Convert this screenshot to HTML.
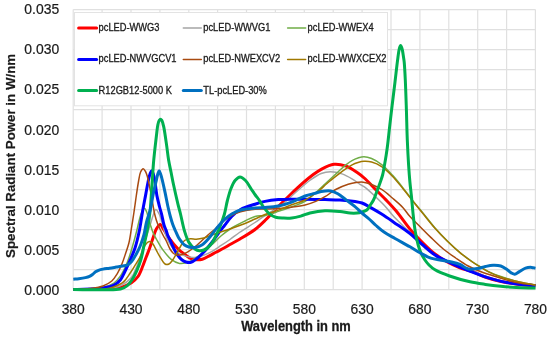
<!DOCTYPE html>
<html><head><meta charset="utf-8"><style>
html,body{margin:0;padding:0;background:#fff;}
svg{display:block;}
text{font-family:"Liberation Sans",Arial,sans-serif;fill:#1a1a1a;}
</style></head><body>
<svg width="550" height="337" viewBox="0 0 550 337">
<rect width="550" height="337" fill="#fff"/>
<g stroke="#e0e0e0" stroke-width="1.2" fill="none">
<line x1="73.2" y1="289.6" x2="535.4" y2="289.6"/>
<line x1="73.2" y1="269.6" x2="535.4" y2="269.6"/>
<line x1="73.2" y1="249.6" x2="535.4" y2="249.6"/>
<line x1="73.2" y1="229.6" x2="535.4" y2="229.6"/>
<line x1="73.2" y1="209.6" x2="535.4" y2="209.6"/>
<line x1="73.2" y1="189.6" x2="535.4" y2="189.6"/>
<line x1="73.2" y1="169.6" x2="535.4" y2="169.6"/>
<line x1="73.2" y1="149.6" x2="535.4" y2="149.6"/>
<line x1="73.2" y1="129.6" x2="535.4" y2="129.6"/>
<line x1="73.2" y1="109.6" x2="535.4" y2="109.6"/>
<line x1="73.2" y1="89.6" x2="535.4" y2="89.6"/>
<line x1="73.2" y1="69.6" x2="535.4" y2="69.6"/>
<line x1="73.2" y1="49.6" x2="535.4" y2="49.6"/>
<line x1="73.2" y1="29.6" x2="535.4" y2="29.6"/>
<line x1="73.2" y1="9.6" x2="535.4" y2="9.6"/>
<line x1="73.2" y1="9.6" x2="73.2" y2="289.6"/>
<line x1="102.1" y1="9.6" x2="102.1" y2="289.6"/>
<line x1="131.0" y1="9.6" x2="131.0" y2="289.6"/>
<line x1="159.9" y1="9.6" x2="159.9" y2="289.6"/>
<line x1="188.8" y1="9.6" x2="188.8" y2="289.6"/>
<line x1="217.6" y1="9.6" x2="217.6" y2="289.6"/>
<line x1="246.5" y1="9.6" x2="246.5" y2="289.6"/>
<line x1="275.4" y1="9.6" x2="275.4" y2="289.6"/>
<line x1="304.3" y1="9.6" x2="304.3" y2="289.6"/>
<line x1="333.2" y1="9.6" x2="333.2" y2="289.6"/>
<line x1="362.1" y1="9.6" x2="362.1" y2="289.6"/>
<line x1="391.0" y1="9.6" x2="391.0" y2="289.6"/>
<line x1="419.9" y1="9.6" x2="419.9" y2="289.6"/>
<line x1="448.8" y1="9.6" x2="448.8" y2="289.6"/>
<line x1="477.7" y1="9.6" x2="477.7" y2="289.6"/>
<line x1="506.6" y1="9.6" x2="506.6" y2="289.6"/>
<line x1="535.4" y1="9.6" x2="535.4" y2="289.6"/>
</g>
<g fill="none" stroke-linejoin="round" stroke-linecap="butt">
<path d="M73.20 289.50 C82.13 289.47 92.84 289.53 100.00 289.40 C104.79 289.31 108.35 289.36 112.00 289.00 C115.09 288.70 117.55 288.48 120.50 287.60 C123.97 286.57 128.36 284.83 131.40 282.80 C134.06 281.03 136.15 279.11 138.00 276.50 C140.13 273.50 141.57 268.95 143.00 265.50 C144.24 262.51 145.12 259.83 146.20 257.00 C147.28 254.16 148.46 251.39 149.50 248.50 C150.56 245.56 151.39 242.64 152.50 239.50 C153.73 236.01 154.99 231.15 156.60 228.50 C157.69 226.70 159.06 224.42 160.20 224.50 C161.40 224.58 162.50 227.83 163.60 229.50 C164.69 231.16 165.71 232.84 166.80 234.50 C167.90 236.17 169.03 237.86 170.20 239.50 C171.36 241.13 172.44 242.68 173.80 244.30 C175.33 246.11 177.23 248.17 179.00 249.80 C180.63 251.30 182.28 252.49 184.00 253.80 C185.77 255.15 187.61 256.82 189.50 257.80 C191.22 258.69 192.85 259.32 194.80 259.60 C197.06 259.93 199.87 259.92 202.30 259.30 C204.85 258.64 207.34 256.83 209.70 255.60 C211.89 254.46 213.77 253.39 216.00 252.20 C218.50 250.87 221.54 249.36 224.00 248.00 C226.16 246.80 227.74 245.78 230.00 244.50 C232.90 242.86 236.37 241.15 240.00 239.00 C244.53 236.32 250.63 232.82 255.00 229.50 C258.81 226.61 261.71 223.73 265.00 220.50 C268.48 217.09 271.52 213.38 275.30 209.50 C279.72 204.96 285.11 199.66 290.00 195.00 C294.71 190.51 300.03 185.54 304.10 182.00 C307.07 179.41 309.21 177.58 312.00 175.50 C314.90 173.34 317.77 171.10 321.20 169.30 C325.02 167.30 329.73 164.76 334.00 164.30 C338.03 163.86 342.33 164.90 346.10 166.20 C349.82 167.48 353.25 169.83 356.50 172.00 C359.67 174.11 362.41 176.31 365.40 179.00 C368.83 182.09 372.32 186.17 375.80 189.70 C379.25 193.20 382.77 196.51 386.20 200.10 C389.71 203.77 393.01 207.20 396.60 211.50 C400.89 216.65 405.48 223.74 410.00 229.10 C414.12 233.98 418.25 238.28 422.50 242.50 C426.59 246.56 430.69 250.67 435.00 254.00 C439.01 257.10 443.18 259.67 447.40 262.00 C451.48 264.25 455.67 266.20 459.90 267.80 C464.01 269.35 468.27 269.99 472.40 271.50 C476.64 273.05 480.56 275.42 485.00 277.00 C489.73 278.68 494.67 280.01 500.00 281.20 C505.93 282.52 512.89 283.61 519.00 284.40 C524.65 285.13 529.93 285.40 535.40 285.90" stroke="#ff0000" stroke-width="3.0"/>
<path d="M73.20 289.50 C83.80 289.40 96.33 290.24 105.00 289.20 C111.13 288.47 115.98 287.71 120.50 285.60 C124.69 283.65 128.66 280.71 131.40 277.40 C133.99 274.28 135.14 270.51 136.80 266.50 C138.72 261.85 140.37 256.14 142.00 251.00 C143.60 245.97 145.00 240.75 146.50 236.00 C147.87 231.66 149.47 227.21 150.60 223.60 C151.47 220.82 151.92 218.59 152.80 216.20 C153.66 213.86 154.63 209.51 155.80 209.40 C156.89 209.29 158.46 212.62 159.50 214.70 C160.75 217.21 161.34 220.25 162.40 223.60 C163.77 227.93 164.81 233.91 167.00 238.50 C169.14 242.99 171.92 247.92 175.30 250.90 C178.29 253.53 182.26 255.01 185.70 256.10 C188.76 257.07 191.43 257.78 194.80 257.50 C199.20 257.14 205.14 254.74 209.70 252.60 C214.00 250.58 217.90 247.53 221.50 245.20 C224.58 243.20 227.12 241.54 230.00 239.50 C233.08 237.32 235.82 234.97 239.40 232.50 C243.90 229.39 250.40 225.58 255.00 222.50 C258.73 220.00 261.24 217.99 265.00 215.50 C269.67 212.41 275.99 209.26 281.00 205.50 C285.99 201.75 290.18 197.17 295.00 193.00 C300.00 188.67 305.69 183.45 310.50 180.00 C314.29 177.29 317.63 174.86 321.20 173.50 C324.30 172.32 327.24 171.80 330.50 171.80 C334.13 171.80 338.35 172.68 342.00 173.90 C345.64 175.12 349.26 177.25 352.40 179.10 C355.19 180.74 357.66 182.79 360.00 184.30 C361.94 185.55 363.39 186.10 365.40 187.60 C368.40 189.84 372.37 193.74 375.80 197.00 C379.31 200.34 383.25 204.13 386.20 207.40 C388.61 210.07 389.74 212.04 392.40 215.00 C396.55 219.62 403.85 226.49 409.20 232.00 C414.18 237.13 418.11 242.50 423.50 247.00 C429.15 251.71 435.99 256.12 442.50 259.50 C448.67 262.70 455.70 264.78 461.50 267.00 C466.37 268.86 469.92 270.13 475.00 272.00 C481.57 274.42 488.97 278.15 497.60 280.30 C508.46 283.01 522.80 283.77 535.40 285.50" stroke="#a5a5a5" stroke-width="1.5"/>
<path d="M73.20 289.50 C83.13 288.80 95.59 289.10 103.00 287.40 C107.67 286.33 111.00 285.08 114.00 283.00 C116.71 281.13 118.63 278.52 120.50 275.90 C122.41 273.23 123.90 270.08 125.30 267.10 C126.66 264.21 127.67 261.50 128.80 258.30 C130.12 254.57 131.34 250.31 132.60 246.00 C133.98 241.26 135.50 235.72 136.70 231.00 C137.76 226.81 138.51 222.60 139.50 219.10 C140.30 216.26 140.99 213.43 142.00 211.50 C142.71 210.13 143.64 208.28 144.40 208.30 C145.14 208.32 145.90 210.19 146.50 211.50 C147.30 213.24 147.76 215.80 148.40 218.00 C149.06 220.27 149.66 222.55 150.40 224.90 C151.18 227.38 151.96 230.06 153.00 232.50 C154.03 234.92 155.18 236.96 156.60 239.50 C158.36 242.65 160.49 246.62 162.90 249.90 C165.35 253.23 168.19 257.00 171.20 259.30 C173.79 261.28 176.50 262.98 179.50 263.40 C182.70 263.85 186.52 262.88 189.90 261.50 C193.71 259.95 197.43 256.72 201.00 254.00 C204.63 251.23 208.08 248.09 211.50 245.00 C214.91 241.92 218.06 238.38 221.50 235.50 C224.80 232.74 227.98 230.33 231.70 228.00 C235.75 225.46 240.85 223.02 245.00 221.00 C248.54 219.27 251.59 217.43 255.00 216.50 C258.26 215.61 261.46 216.12 265.00 215.40 C269.18 214.55 273.96 212.85 278.40 211.40 C282.86 209.95 287.27 208.36 291.70 206.70 C296.17 205.03 300.87 203.93 305.10 201.40 C309.68 198.66 314.38 193.70 318.00 190.50 C320.72 188.09 322.67 186.17 325.00 184.00 C327.33 181.83 329.67 179.67 332.00 177.50 C334.33 175.33 336.64 173.15 339.00 171.00 C341.37 168.85 343.88 166.42 346.20 164.60 C348.19 163.04 349.99 161.71 352.00 160.60 C353.93 159.53 355.97 158.65 358.00 158.00 C359.97 157.37 361.88 156.68 364.00 156.70 C366.39 156.72 368.96 157.42 371.60 158.50 C374.90 159.85 378.68 162.21 382.00 164.80 C385.64 167.64 389.02 171.41 392.40 175.10 C395.96 178.99 399.44 183.36 402.80 187.60 C406.14 191.83 409.19 196.32 412.50 200.50 C415.76 204.61 419.00 208.23 422.50 212.50 C426.45 217.32 430.74 223.14 435.00 228.00 C439.05 232.61 443.19 236.86 447.40 241.00 C451.49 245.02 455.64 248.97 459.90 252.50 C463.98 255.88 468.81 259.32 472.40 261.80 C475.00 263.59 476.82 264.68 479.30 266.20 C482.13 267.93 485.14 269.96 488.50 271.60 C492.24 273.43 496.66 275.03 500.80 276.50 C504.90 277.96 509.05 279.28 513.20 280.40 C517.29 281.51 521.60 282.41 525.50 283.20 C529.00 283.91 532.17 284.40 535.50 285.00" stroke="#70ad47" stroke-width="1.5"/>
<path d="M73.20 289.50 C83.13 289.00 95.53 289.13 103.00 288.00 C107.61 287.31 110.96 286.77 114.00 285.20 C116.63 283.84 118.71 281.92 120.50 279.70 C122.37 277.38 123.42 274.46 124.90 271.50 C126.59 268.12 128.36 264.31 130.00 260.50 C131.73 256.49 133.51 252.60 135.00 248.00 C136.75 242.60 138.22 236.18 139.50 230.00 C140.84 223.54 141.69 216.28 142.80 210.00 C143.79 204.39 144.88 199.01 145.80 194.10 C146.59 189.87 147.24 185.88 148.00 182.30 C148.64 179.28 149.24 176.11 150.00 174.00 C150.50 172.62 151.05 170.71 151.60 170.70 C152.15 170.69 152.81 172.62 153.30 174.00 C154.03 176.05 154.47 178.97 155.00 182.00 C155.69 185.92 156.09 191.28 156.90 195.60 C157.65 199.59 158.72 203.54 159.60 207.00 C160.34 209.91 161.10 212.18 161.80 215.00 C162.58 218.14 163.16 222.27 164.00 225.00 C164.61 226.98 165.36 228.25 166.00 230.00 C166.70 231.90 167.26 234.23 168.00 236.00 C168.62 237.49 169.33 238.58 170.00 240.00 C170.74 241.57 171.44 243.34 172.20 245.00 C172.97 246.67 173.71 248.35 174.60 250.00 C175.51 251.69 176.43 253.40 177.60 255.00 C178.82 256.67 180.28 258.60 181.80 259.80 C183.11 260.83 184.49 261.58 186.00 262.00 C187.55 262.43 189.33 262.73 191.00 262.30 C192.99 261.79 195.04 260.02 197.00 258.50 C199.18 256.81 201.51 254.45 203.40 252.50 C205.05 250.80 206.32 249.26 207.80 247.50 C209.39 245.61 210.95 243.70 212.60 241.50 C214.53 238.94 216.57 235.72 218.60 233.00 C220.54 230.40 222.43 228.11 224.50 225.50 C226.78 222.63 229.00 219.18 231.70 216.50 C234.37 213.85 237.10 211.46 240.60 209.50 C244.68 207.22 250.61 205.62 255.00 204.20 C258.61 203.03 261.40 202.14 265.00 201.40 C269.11 200.55 273.93 199.97 278.40 199.60 C282.83 199.24 287.26 199.25 291.70 199.20 C296.16 199.15 300.19 199.24 305.10 199.30 C311.08 199.37 318.83 199.47 325.00 199.60 C330.35 199.71 335.01 199.68 340.00 200.00 C345.01 200.32 350.96 200.87 355.00 201.50 C357.79 201.94 359.57 202.11 362.00 203.00 C364.93 204.07 368.06 206.13 371.20 207.90 C374.58 209.81 378.01 211.83 381.60 214.10 C385.58 216.62 389.62 219.41 394.00 222.40 C399.01 225.81 405.10 229.63 410.00 233.50 C414.54 237.09 418.30 241.09 422.50 244.70 C426.63 248.25 430.69 252.14 435.00 255.00 C439.01 257.66 443.23 259.46 447.40 261.50 C451.53 263.52 455.83 265.49 459.90 267.20 C463.69 268.79 467.28 270.07 471.00 271.50 C474.75 272.94 478.42 274.47 482.30 275.80 C486.32 277.18 490.56 278.48 494.70 279.60 C498.79 280.71 502.88 281.71 507.00 282.50 C511.08 283.28 514.91 283.80 519.30 284.30 C524.32 284.87 530.10 285.17 535.50 285.60" stroke="#0000ff" stroke-width="3.0"/>
<path d="M73.20 289.50 C79.47 289.10 86.59 289.03 92.00 288.30 C96.18 287.73 99.63 287.27 103.00 286.00 C106.20 284.79 109.38 283.13 111.80 281.00 C114.10 278.98 115.66 276.41 117.30 273.70 C119.10 270.73 120.59 267.25 122.00 263.80 C123.47 260.20 124.71 256.11 125.90 252.50 C126.99 249.20 128.03 246.56 128.90 243.00 C129.97 238.60 130.66 233.08 131.50 228.00 C132.36 222.76 133.36 216.25 134.00 212.00 C134.42 209.19 134.64 207.54 135.00 205.00 C135.43 201.96 135.86 198.61 136.40 195.00 C137.04 190.72 137.82 185.14 138.60 181.00 C139.23 177.66 139.56 174.18 140.60 172.00 C141.30 170.53 142.35 168.71 143.20 168.70 C143.99 168.69 144.85 170.38 145.50 171.50 C146.27 172.83 146.70 174.27 147.30 176.30 C148.28 179.62 149.31 185.23 150.20 189.70 C151.08 194.13 151.80 198.68 152.60 203.00 C153.36 207.10 154.00 211.37 154.90 215.00 C155.67 218.10 156.50 220.89 157.50 223.50 C158.39 225.84 159.48 227.88 160.50 230.00 C161.48 232.05 162.49 234.10 163.50 236.00 C164.43 237.75 165.34 239.12 166.30 241.00 C167.49 243.33 168.65 246.78 170.00 249.00 C171.09 250.79 172.13 252.49 173.50 253.50 C174.68 254.37 176.11 254.83 177.50 255.00 C178.94 255.18 180.46 254.92 182.00 254.50 C183.75 254.03 185.51 253.16 187.40 252.10 C189.73 250.79 192.39 248.91 194.80 247.00 C197.36 244.97 199.81 242.46 202.30 240.20 C204.77 237.96 207.34 235.55 209.70 233.50 C211.79 231.69 213.65 230.34 215.70 228.50 C218.01 226.42 220.20 223.74 222.80 221.60 C225.52 219.36 228.64 217.06 231.70 215.40 C234.58 213.84 237.22 212.77 240.60 211.80 C244.77 210.61 250.62 209.74 255.00 209.30 C258.62 208.93 261.42 209.12 265.00 209.00 C269.14 208.86 273.95 208.80 278.40 208.50 C282.85 208.20 287.27 207.78 291.70 207.20 C296.17 206.62 300.92 206.04 305.10 205.00 C308.91 204.05 312.42 202.82 315.80 201.40 C319.04 200.04 321.87 198.54 325.00 196.70 C328.49 194.64 331.89 191.55 335.70 189.50 C339.61 187.40 344.48 185.49 348.20 184.30 C351.06 183.38 353.43 182.85 356.00 182.50 C358.46 182.17 360.81 181.91 363.30 182.20 C366.00 182.51 368.73 183.40 371.60 184.50 C374.93 185.78 378.64 187.55 382.00 189.70 C385.59 192.00 388.98 195.09 392.40 198.00 C395.91 200.98 399.77 204.15 402.80 207.40 C405.56 210.37 407.28 213.52 410.00 216.60 C413.06 220.05 416.93 223.53 420.40 227.00 C423.87 230.47 427.14 233.87 430.80 237.40 C434.74 241.20 439.03 245.49 443.30 249.00 C447.34 252.32 451.52 255.15 455.70 258.00 C459.82 260.81 463.81 263.65 468.20 266.00 C472.67 268.39 477.71 270.45 482.30 272.20 C486.52 273.81 490.57 274.88 494.70 276.20 C498.81 277.51 502.88 278.98 507.00 280.10 C511.08 281.21 514.90 282.12 519.30 282.90 C524.31 283.79 530.10 284.30 535.50 285.00" stroke="#a84a10" stroke-width="1.5"/>
<path d="M73.20 289.50 C83.80 289.33 97.78 289.89 105.00 289.00 C108.80 288.53 110.72 288.04 113.60 287.00 C116.78 285.85 120.49 284.45 123.20 282.20 C125.97 279.91 127.96 276.22 130.00 273.30 C131.86 270.63 133.32 268.10 135.00 265.40 C136.75 262.58 138.68 259.88 140.30 256.70 C142.11 253.15 143.26 247.59 145.20 245.00 C146.47 243.31 148.09 241.69 149.40 241.60 C150.46 241.53 151.55 242.58 152.40 243.40 C153.31 244.28 153.85 245.50 154.60 246.80 C155.54 248.44 156.48 250.61 157.50 252.50 C158.54 254.41 159.58 256.32 160.80 258.20 C162.07 260.16 163.38 263.17 165.00 264.00 C166.21 264.62 167.85 264.48 169.00 264.00 C170.19 263.51 170.94 262.35 172.00 261.00 C173.66 258.87 175.86 254.64 177.40 252.00 C178.59 249.95 179.36 248.35 180.50 246.50 C181.72 244.52 182.75 241.80 184.50 240.50 C186.11 239.30 188.41 238.91 190.40 238.70 C192.35 238.49 194.23 239.28 196.30 239.20 C198.63 239.11 201.15 238.66 203.70 238.00 C206.56 237.26 209.63 235.84 212.60 234.80 C215.56 233.77 218.57 232.78 221.50 231.80 C224.36 230.85 226.78 230.12 230.00 229.00 C234.31 227.50 240.53 225.32 245.00 223.50 C248.70 221.99 251.67 220.50 255.00 219.00 C258.33 217.50 261.38 215.90 265.00 214.50 C269.10 212.91 273.97 211.72 278.40 210.10 C282.87 208.46 287.24 206.39 291.70 204.70 C296.14 203.02 300.80 202.13 305.10 200.00 C309.58 197.78 314.18 194.43 318.00 191.50 C321.37 188.91 323.87 186.15 327.00 183.50 C330.29 180.72 334.10 177.71 337.30 175.20 C340.04 173.05 342.45 171.08 345.00 169.30 C347.38 167.64 349.79 165.97 352.10 164.80 C354.11 163.78 356.00 163.09 358.00 162.50 C359.97 161.92 361.87 161.41 364.00 161.30 C366.38 161.17 368.93 161.28 371.60 162.00 C374.87 162.88 378.69 164.61 382.00 166.80 C385.66 169.22 389.05 172.73 392.40 176.20 C396.00 179.92 399.36 184.32 402.80 188.50 C406.30 192.75 409.82 197.30 413.20 201.50 C416.38 205.46 419.17 208.90 422.50 213.00 C426.35 217.74 430.75 223.48 435.00 228.30 C439.06 232.89 443.18 237.19 447.40 241.30 C451.49 245.28 455.65 249.10 459.90 252.60 C463.99 255.98 468.81 259.51 472.40 262.00 C475.00 263.80 476.82 264.88 479.30 266.40 C482.13 268.13 485.15 270.12 488.50 271.80 C492.25 273.68 496.64 275.56 500.80 277.00 C504.88 278.41 509.06 279.36 513.20 280.40 C517.30 281.43 521.60 282.41 525.50 283.20 C529.00 283.91 532.17 284.40 535.50 285.00" stroke="#a07800" stroke-width="1.5"/>
<path d="M73.20 289.60 C82.13 289.63 91.67 289.83 100.00 289.70 C107.29 289.59 115.60 290.25 120.50 289.00 C123.48 288.24 125.32 287.22 127.30 285.60 C129.43 283.86 131.13 281.17 132.70 278.70 C134.30 276.18 135.51 273.55 136.80 270.60 C138.27 267.25 139.71 263.67 140.90 259.60 C142.31 254.77 143.25 248.73 144.40 243.40 C145.52 238.20 146.76 233.35 147.70 228.00 C148.71 222.25 149.56 216.17 150.20 210.00 C150.88 203.52 151.17 196.07 151.60 190.00 C151.96 184.92 152.29 180.49 152.60 176.00 C152.89 171.85 153.04 168.28 153.40 164.00 C153.81 159.05 154.46 153.05 155.00 148.00 C155.49 143.44 155.99 139.10 156.50 135.00 C156.96 131.31 157.28 127.19 157.90 124.50 C158.30 122.76 158.71 121.20 159.30 120.30 C159.66 119.75 160.09 119.21 160.50 119.20 C160.92 119.19 161.43 119.75 161.80 120.30 C162.35 121.12 162.64 122.73 163.00 124.00 C163.38 125.32 163.63 126.24 164.00 128.10 C164.76 131.94 165.90 140.31 166.70 145.90 C167.41 150.87 167.85 155.50 168.60 160.00 C169.30 164.17 170.18 167.92 171.00 172.00 C171.85 176.25 172.58 180.25 173.60 185.00 C174.84 190.81 176.71 198.97 178.00 204.30 C178.92 208.09 179.59 210.31 180.50 214.00 C181.70 218.87 182.94 225.95 184.50 231.00 C185.81 235.23 186.98 239.26 188.90 242.40 C190.54 245.08 192.77 247.60 194.80 249.00 C196.33 250.06 197.93 250.65 199.50 250.80 C201.00 250.94 202.59 250.54 204.00 250.00 C205.43 249.45 206.72 248.60 208.00 247.50 C209.51 246.20 211.01 244.39 212.30 242.50 C213.71 240.43 214.81 237.89 216.00 235.50 C217.21 233.06 218.31 230.90 219.50 228.00 C221.06 224.19 222.98 219.08 224.30 214.50 C225.62 209.92 226.24 204.97 227.40 200.50 C228.49 196.33 229.55 192.06 231.00 188.50 C232.25 185.44 233.56 182.29 235.30 180.30 C236.67 178.74 238.36 177.04 240.00 177.00 C241.75 176.96 243.79 178.83 245.50 180.50 C247.70 182.66 249.72 186.87 251.50 189.50 C252.90 191.56 254.01 193.22 255.30 195.00 C256.55 196.72 257.83 198.18 259.10 200.00 C260.53 202.06 261.75 204.58 263.40 206.80 C265.18 209.19 267.29 212.00 269.50 213.80 C271.43 215.38 273.41 216.58 275.70 217.30 C278.15 218.07 281.11 217.98 283.80 218.10 C286.45 218.21 289.00 218.30 291.70 218.00 C294.62 217.68 297.70 216.91 300.70 216.10 C303.80 215.26 306.49 213.85 310.00 213.00 C314.37 211.95 319.99 210.95 325.00 210.70 C329.99 210.45 335.51 211.05 340.00 211.50 C343.68 211.87 346.96 212.77 350.00 213.00 C352.53 213.19 354.87 213.21 357.00 213.00 C358.82 212.82 360.37 212.50 362.00 212.00 C363.64 211.50 365.48 211.06 366.80 210.00 C368.16 208.91 368.93 207.09 370.00 205.50 C371.16 203.77 372.40 202.17 373.50 200.00 C374.91 197.22 376.27 192.98 377.40 190.00 C378.31 187.61 378.99 185.82 379.80 183.50 C380.72 180.86 381.83 177.97 382.60 175.00 C383.42 171.83 383.90 168.34 384.50 165.00 C385.10 161.67 385.68 158.34 386.20 155.00 C386.72 151.67 387.12 148.82 387.60 145.00 C388.24 139.88 388.87 133.37 389.60 127.00 C390.42 119.80 391.39 111.58 392.30 104.00 C393.19 96.58 394.12 89.33 395.00 82.00 C395.88 74.67 396.78 66.10 397.60 60.00 C398.19 55.64 398.59 51.37 399.30 48.80 C399.69 47.38 400.14 45.61 400.60 45.60 C401.04 45.59 401.59 47.24 402.00 48.50 C402.66 50.56 403.11 54.54 403.50 57.00 C403.80 58.88 403.98 59.81 404.20 62.00 C404.62 66.14 404.97 73.24 405.30 80.00 C405.73 88.73 406.07 100.00 406.40 110.00 C406.73 120.00 406.91 130.46 407.30 140.00 C407.66 148.71 408.12 157.47 408.60 165.00 C409.00 171.21 409.41 176.61 409.90 182.00 C410.35 186.90 410.89 190.98 411.40 196.00 C411.99 201.85 412.54 208.92 413.20 215.00 C413.81 220.62 414.32 225.99 415.20 231.20 C416.04 236.13 417.16 241.53 418.30 245.50 C419.14 248.43 419.93 250.63 421.00 253.00 C422.04 255.29 423.24 257.48 424.60 259.50 C425.92 261.47 427.31 263.31 429.00 265.00 C430.76 266.76 432.43 268.27 435.00 269.80 C438.69 272.00 444.26 274.12 449.60 276.00 C455.77 278.18 463.64 280.36 470.00 281.80 C475.46 283.03 480.26 283.65 485.40 284.40 C490.53 285.15 495.65 285.78 500.80 286.30 C505.95 286.82 510.85 287.20 516.30 287.50 C522.35 287.83 529.10 287.90 535.50 288.10" stroke="#00b050" stroke-width="3.0"/>
<path d="M73.30 279.30 C75.13 279.10 76.89 278.96 78.80 278.70 C80.90 278.41 83.47 278.04 85.40 277.60 C86.94 277.25 88.27 276.95 89.50 276.40 C90.62 275.89 91.53 275.24 92.50 274.50 C93.53 273.72 94.45 272.52 95.50 271.80 C96.46 271.15 97.37 270.73 98.50 270.30 C99.83 269.80 101.35 269.43 103.00 269.10 C104.98 268.70 107.40 268.53 109.60 268.20 C111.80 267.87 114.01 267.47 116.20 267.10 C118.38 266.73 120.75 266.36 122.70 266.00 C124.31 265.70 125.71 265.74 127.10 265.10 C128.63 264.39 130.04 263.20 131.40 261.70 C133.13 259.79 134.74 256.80 136.20 254.20 C137.68 251.57 138.98 248.98 140.20 246.00 C141.58 242.64 142.87 238.85 143.90 235.00 C145.00 230.88 145.43 226.22 146.50 222.00 C147.54 217.89 149.13 214.31 150.20 210.00 C151.41 205.10 152.15 199.15 153.20 194.10 C154.16 189.46 155.35 184.50 156.20 180.80 C156.81 178.16 157.22 175.84 157.80 174.00 C158.21 172.69 158.64 170.71 159.10 170.70 C159.57 170.69 160.14 172.75 160.60 174.00 C161.16 175.54 161.55 177.12 162.10 179.30 C162.97 182.72 164.15 188.15 165.10 192.60 C166.05 197.05 166.89 201.87 167.80 206.00 C168.59 209.58 169.35 212.86 170.20 216.00 C170.96 218.83 171.69 221.44 172.60 224.00 C173.47 226.43 174.50 228.72 175.50 231.00 C176.47 233.22 177.41 235.60 178.50 237.50 C179.43 239.13 180.45 240.51 181.50 241.80 C182.46 242.98 183.30 244.15 184.50 245.00 C185.77 245.91 187.37 246.58 189.00 247.00 C190.78 247.46 192.78 247.78 194.80 247.50 C197.17 247.18 199.96 246.20 202.30 244.70 C204.98 242.98 207.32 240.02 209.70 237.30 C212.27 234.36 214.56 230.64 217.10 227.60 C219.50 224.72 221.94 221.84 224.50 219.50 C226.82 217.37 229.07 215.56 231.70 214.00 C234.42 212.38 237.20 210.98 240.60 210.00 C244.75 208.81 250.63 208.41 255.00 208.00 C258.63 207.66 261.43 207.79 265.00 207.50 C269.15 207.16 273.98 206.89 278.40 206.00 C282.88 205.10 287.32 203.73 291.70 202.10 C296.22 200.42 300.97 197.50 305.10 196.00 C308.46 194.78 311.63 194.18 314.50 193.40 C316.92 192.74 318.76 192.00 321.20 191.60 C324.03 191.13 327.63 190.58 330.50 191.00 C333.12 191.38 335.38 192.39 337.80 193.70 C340.59 195.22 343.33 197.83 346.10 199.90 C348.87 201.97 351.74 203.91 354.40 206.10 C357.04 208.28 359.49 210.80 362.00 213.00 C364.39 215.09 366.78 216.93 369.10 219.00 C371.45 221.09 373.58 223.36 376.00 225.50 C378.53 227.73 381.03 230.03 384.00 232.10 C387.29 234.39 391.04 236.25 395.00 238.50 C399.60 241.11 405.48 244.20 410.00 246.80 C413.80 248.98 416.90 251.08 420.40 253.00 C423.83 254.88 427.25 256.98 430.80 258.20 C434.19 259.37 437.73 259.67 441.20 260.30 C444.66 260.93 448.35 261.27 451.60 262.00 C454.54 262.66 457.41 263.32 459.90 264.40 C462.16 265.37 464.14 267.16 466.00 268.00 C467.43 268.65 468.43 269.13 470.00 269.30 C472.13 269.53 475.15 268.96 477.70 268.50 C480.28 268.03 482.82 267.03 485.40 266.50 C487.95 265.97 490.53 265.38 493.10 265.30 C495.66 265.22 498.44 265.27 500.80 266.00 C503.06 266.71 505.13 268.25 507.00 269.50 C508.69 270.63 510.16 272.31 511.60 273.10 C512.68 273.70 513.59 274.30 514.70 274.20 C516.11 274.08 517.65 272.53 519.30 271.60 C521.21 270.52 523.36 268.79 525.50 268.10 C527.50 267.45 529.89 267.31 531.70 267.40 C533.13 267.47 534.23 267.93 535.50 268.20" stroke="#0070c0" stroke-width="3.0"/>
</g>
<rect x="74.5" y="12.5" width="313" height="93.3" fill="#fff" stroke="#e3e3e3" stroke-width="1"/>
<g font-size="10" stroke="#1a1a1a" stroke-width="0.3">
<line x1="78.6" y1="28.0" x2="96.6" y2="28.0" stroke="#ff0000" stroke-width="3" stroke-linecap="round"/>
<text transform="translate(98.6 31.0) scale(0.93 1)">pcLED-WWG3</text>
<line x1="183.3" y1="28.0" x2="201.3" y2="28.0" stroke="#a5a5a5" stroke-width="1.5" stroke-linecap="round"/>
<text transform="translate(203.3 31.0) scale(0.93 1)">pcLED-WWVG1</text>
<line x1="287.6" y1="28.0" x2="305.6" y2="28.0" stroke="#70ad47" stroke-width="1.5" stroke-linecap="round"/>
<text transform="translate(307.6 31.0) scale(0.93 1)">pcLED-WWEX4</text>
<line x1="78.6" y1="59.4" x2="96.6" y2="59.4" stroke="#0000ff" stroke-width="3" stroke-linecap="round"/>
<text transform="translate(98.6 62.4) scale(0.93 1)">pcLED-NWVGCV1</text>
<line x1="183.3" y1="59.4" x2="201.3" y2="59.4" stroke="#a84a10" stroke-width="1.5" stroke-linecap="round"/>
<text transform="translate(203.3 62.4) scale(0.93 1)">pcLED-NWEXCV2</text>
<line x1="287.6" y1="59.4" x2="305.6" y2="59.4" stroke="#a07800" stroke-width="1.5" stroke-linecap="round"/>
<text transform="translate(307.6 62.4) scale(0.93 1)">pcLED-WWXCEX2</text>
<line x1="78.6" y1="90.6" x2="96.6" y2="90.6" stroke="#00b050" stroke-width="3" stroke-linecap="round"/>
<text transform="translate(98.6 93.6) scale(0.93 1)">R12GB12-5000 K</text>
<line x1="183.3" y1="90.6" x2="201.3" y2="90.6" stroke="#0070c0" stroke-width="3" stroke-linecap="round"/>
<text transform="translate(203.3 93.6) scale(0.93 1)">TL-pcLED-30%</text>
</g>
<g font-size="15" text-anchor="end" stroke="#1a1a1a" stroke-width="0.2">
<text transform="translate(59.2 295.10) scale(0.93 1)">0.000</text>
<text transform="translate(59.2 254.96) scale(0.93 1)">0.005</text>
<text transform="translate(59.2 214.82) scale(0.93 1)">0.010</text>
<text transform="translate(59.2 174.68) scale(0.93 1)">0.015</text>
<text transform="translate(59.2 134.54) scale(0.93 1)">0.020</text>
<text transform="translate(59.2 94.40) scale(0.93 1)">0.025</text>
<text transform="translate(59.2 54.26) scale(0.93 1)">0.030</text>
<text transform="translate(59.2 14.12) scale(0.93 1)">0.035</text>
</g>
<g font-size="14.6" text-anchor="middle" stroke="#1a1a1a" stroke-width="0.2">
<text transform="translate(73.20 314) scale(0.95 1)">380</text>
<text transform="translate(130.98 314) scale(0.95 1)">430</text>
<text transform="translate(188.76 314) scale(0.95 1)">480</text>
<text transform="translate(246.54 314) scale(0.95 1)">530</text>
<text transform="translate(304.32 314) scale(0.95 1)">580</text>
<text transform="translate(362.10 314) scale(0.95 1)">630</text>
<text transform="translate(419.88 314) scale(0.95 1)">680</text>
<text transform="translate(477.66 314) scale(0.95 1)">730</text>
<text transform="translate(535.44 314) scale(0.95 1)">780</text>
</g>
<text x="296" y="330.8" font-size="14" font-weight="bold" text-anchor="middle" stroke="#1a1a1a" stroke-width="0.3" transform="translate(296 0) scale(0.92 1) translate(-296 0)">Wavelength in nm</text>
<text x="0" y="0" font-size="12.8" font-weight="bold" text-anchor="middle" stroke="#1a1a1a" stroke-width="0.2" transform="translate(15.2 155.9) rotate(-90) scale(1.04 1)">Spectral Radiant Power in W/nm</text>
</svg>
</body></html>
